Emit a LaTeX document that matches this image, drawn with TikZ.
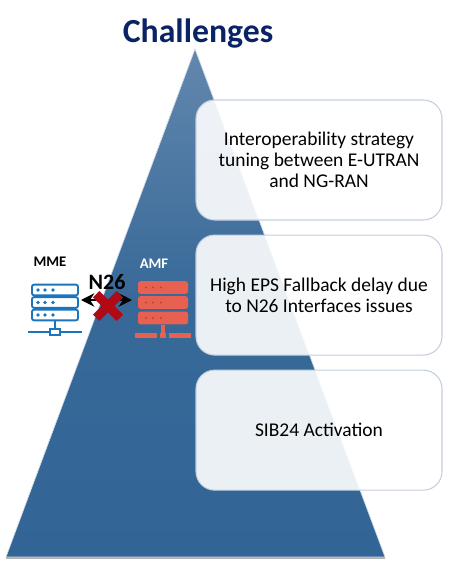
\documentclass[tikz,border=0pt]{standalone}
\usepackage{fontspec}
\setmainfont{Carlito}
\usepackage{xcolor}
\usetikzlibrary{arrows.meta,positioning,shapes.misc}
\definecolor{pyrtop}{RGB}{98,135,173}
\definecolor{pyrbase}{RGB}{50,101,150}
\definecolor{title}{RGB}{10,35,100}
\definecolor{mmeblue}{RGB}{26,117,190}
\definecolor{amfred}{RGB}{232,96,80}
\definecolor{xred}{RGB}{176,10,20}
\definecolor{cardline}{RGB}{195,207,223}

\begin{document}
\begin{tikzpicture}[x=0.75pt,y=-0.75pt,
  card/.style={draw=cardline, line width=0.8pt, fill=white, fill opacity=0.9, text opacity=1,
    rounded corners=14pt, minimum width=184.5pt, minimum height=90pt, align=center, font=\fontsize{14.6}{15.9}\selectfont},
  mmerow/.style={draw=mmeblue, line width=1.4pt, rounded corners=1.5pt, minimum width=34.5pt, minimum height=8pt, inner sep=0pt},
  amfrow/.style={fill=amfred, rounded corners=2pt, minimum width=37.5pt, minimum height=9.7pt, inner sep=0pt},
  lbl/.style={font=\fontsize{11}{12}\selectfont\bfseries},
  arrow/.style={{Stealth[length=10pt,width=10pt]}-{Stealth[length=10pt,width=10pt]}, line width=1.5pt, black}]

\useasboundingbox (0,0) rectangle (474,564);

\fill[black!30] (6,556) -- (385,556) -- (385,559) -- (6,559) -- cycle;
\shade[top color=pyrtop, bottom color=pyrbase, middle color=pyrbase!90!pyrtop, draw=white!70!pyrtop, line width=0.5pt]
  (195,49) -- (385,557) -- (6,557) -- cycle;

\node[font=\fontsize{25.3}{28}\selectfont\bfseries, text=title] (head) at (198,34) {Challenges};

\node[card] (tuning) at (319,160) {Interoperability strategy\\tuning between E-UTRAN\\and NG-RAN};
\node[card, below=10.5pt of tuning] (fallback) {High EPS Fallback delay due\\to N26 Interfaces issues};
\node[card, below=10.5pt of fallback] (sib) {SIB24 Activation};

\node[mmerow] (mme1) at (55,290) {};
\node[mmerow] (mme2) at (55,302.5) {};
\node[mmerow] (mme3) at (55,315) {};
\foreach \ypos in {290,302.5,315}
  \foreach \xpos in {38,45,53}
    \fill[mmeblue] (\xpos,\ypos) circle[radius=1.4pt];
\node[draw=mmeblue, line width=1.4pt, minimum width=8pt, minimum height=4.5pt, inner sep=0pt] (mmehub) at (55,332) {};
\draw[mmeblue, line width=1.4pt] (mme3.south) -- (mmehub.north);
\coordinate (mmeleft) at (28,332);
\coordinate (mmeright) at (82,332);
\draw[mmeblue, line width=1.4pt] (mmeleft) -- (mmehub.west) (mmehub.east) -- (mmeright);
\node[lbl] (mmelabel) at (50,262) {MME};

\node[amfrow] (amf1) at (163,287.5) {};
\node[amfrow] (amf2) at (163,302.5) {};
\node[amfrow] (amf3) at (163,318) {};
\foreach \ypos in {287.5,302.5,318}
  \foreach \xpos in {146,153,161}
    \fill[amfred!75!black] (\xpos,\ypos) circle[radius=0.9pt];
\node[fill=amfred, minimum width=4.5pt, minimum height=4pt, inner sep=0pt] (amfhub) at (163,335.5) {};
\draw[amfred, line width=3.4pt] (amf3.south) -- (amfhub.north);
\node[fill=amfred, minimum width=17pt, minimum height=4pt, inner sep=0pt, left=1.5pt of amfhub] (amfleft) {};
\node[fill=amfred, minimum width=17pt, minimum height=4pt, inner sep=0pt, right=1.5pt of amfhub] (amfright) {};
\node[lbl, text=white] (amflabel) at (154,264) {AMF};

\coordinate (n26start) at (81,300);
\coordinate (n26end) at (132,300);
\draw[arrow] (n26start) -- (n26end);
\node[font=\fontsize{16.5}{18}\selectfont\bfseries] (n26) at (107,282) {N26};
\node[cross out, draw=xred, line width=6.8pt, minimum size=11pt, inner sep=0pt] (block) at (108,306) {};
\end{tikzpicture}
\end{document}
